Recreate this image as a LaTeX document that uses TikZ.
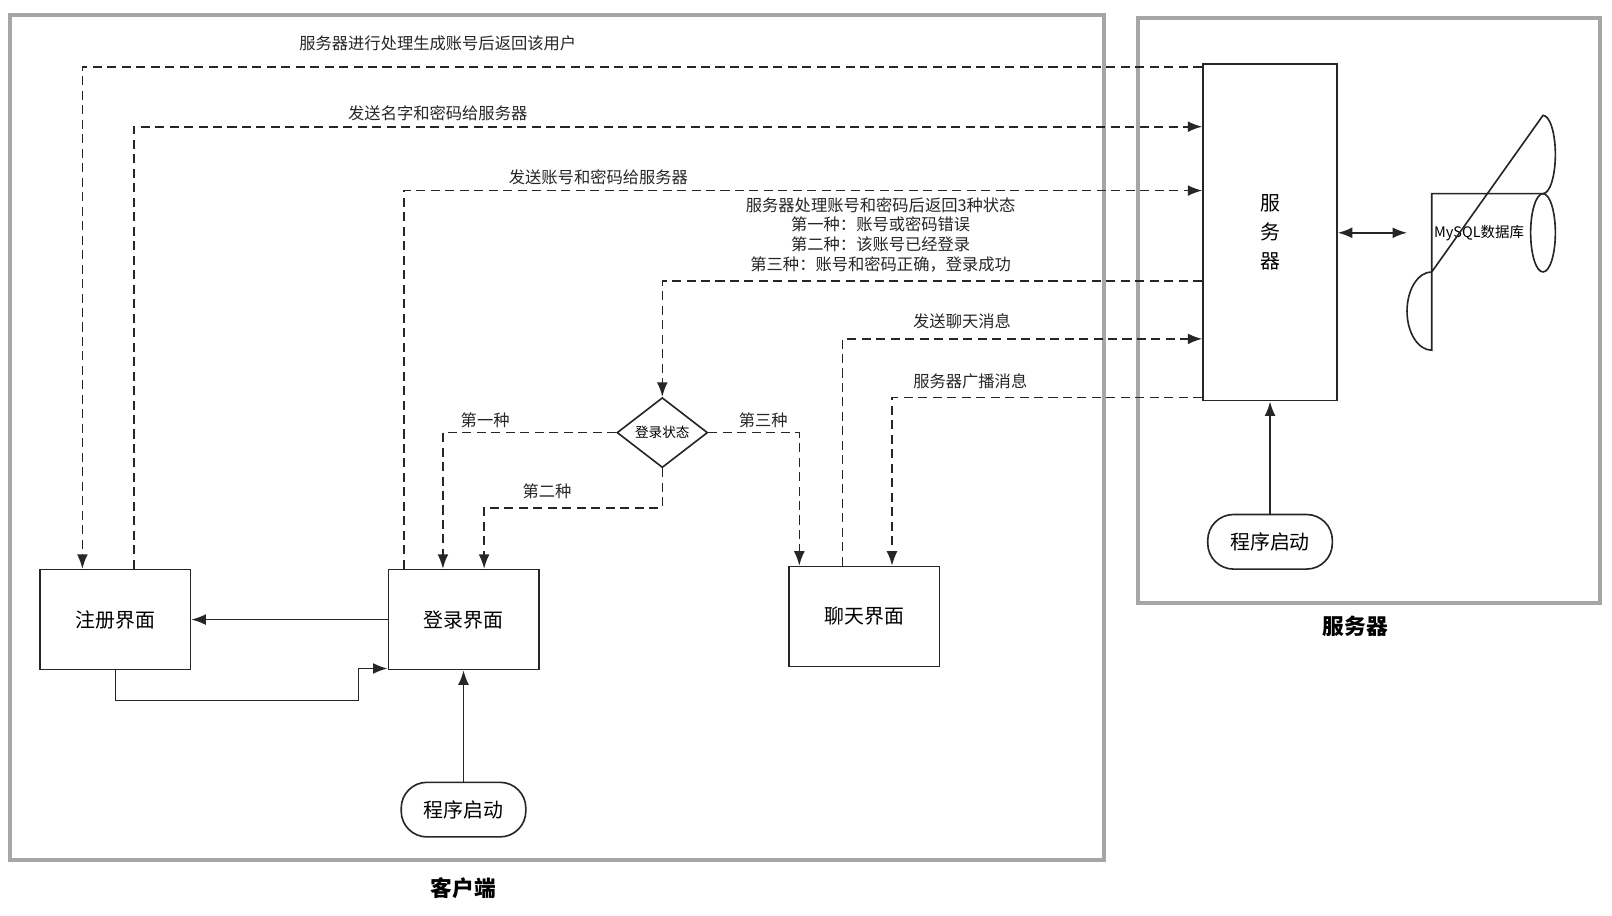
\documentclass[tikz,border=0pt]{standalone}
\usepackage{fontspec}
\setmainfont{Noto Sans CJK SC}
\usetikzlibrary{arrows.meta,shapes.geometric}
\begin{document}
\begin{tikzpicture}[x=0.02cm,y=-0.02cm,
  frame/.style={draw=black!35,line width=2.2pt},
  box/.style={draw=black!85,line width=0.9pt,minimum width=2.92cm,minimum height=1.94cm,font=\fontsize{11}{13}\selectfont},
  start/.style={draw=black!85,line width=0.9pt,rounded corners=0.5cm,minimum width=2.42cm,minimum height=1.06cm,font=\fontsize{11}{13}\selectfont},
  dline/.style={draw=black!85,line width=0.9pt,dash pattern=on 5pt off 3pt},
  sline/.style={draw=black!85,line width=0.9pt},
  arr/.style={-{Latex[length=8pt,width=6pt]}},
  lbl/.style={font=\fontsize{9}{11}\selectfont,text=black!85}]
\useasboundingbox (0,0) rectangle (1565,889);
\draw[frame] (10,15) rectangle (1072,835);
\draw[frame] (1105,17) rectangle (1553,585);
\node[font=\bfseries\fontsize{12}{14}\selectfont] (lc) at (450,862) {客户端};
\node[font=\bfseries\fontsize{12}{14}\selectfont] (ls) at (1316,608) {服务器};

\node[draw=black!85,line width=0.9pt,minimum width=2.6cm,minimum height=6.54cm,align=center,font=\fontsize{11}{16}\selectfont] (srv) at (1233,225.5) {服\\务\\器};
\node[minimum width=2.88cm,minimum height=1.52cm,inner sep=0pt,font=\fontsize{8}{10}\selectfont] (db) at (1436,226) {MySQL数据库};
\draw[line width=0.9pt,black!85] (1390,188) -- (1498,188) arc[start angle=90,end angle=-90,x radius=12,y radius=38] -- (1390,264) arc[start angle=270,end angle=90,x radius=24,y radius=38] -- cycle;
\draw[line width=0.9pt,black!85] (1498,226) ellipse[x radius=12,y radius=38];
\node[start] (ps) at (1233,526) {程序启动};

\node[box] (reg) at (112,601.5) {注册界面};
\node[box] (log) at (450,601.5) {登录界面};
\node[box] (chat) at (839,598.5) {聊天界面};
\node[diamond,draw=black!85,line width=0.9pt,minimum width=1.76cm,minimum height=1.36cm,inner sep=0pt,font=\fontsize{7.5}{9}\selectfont] (dia) at (643,420) {登录状态};
\node[start] (pc) at (450,786) {程序启动};

% dashed
\draw[dline,arr] (srv.north west |- 0,65) -- (80,65) -- (reg.north -| 80,0);
\node[lbl] at (425,42) {服务器进行处理生成账号后返回该用户};
\draw[dline,arr] (reg.north -| 130,0) -- (130,123) -- (srv.west |- 0,123);
\node[lbl] at (425,110) {发送名字和密码给服务器};
\draw[dline,arr] (log.north -| 392,0) -- (392,185) -- (srv.west |- 0,185);
\node[lbl] at (581,172) {发送账号和密码给服务器};
\draw[dline,arr] (srv.west |- 0,273) -- (643,273) -- (dia.north);
\node[lbl,align=center] at (855,228) {服务器处理账号和密码后返回3种状态\\第一种：账号或密码错误\\第二种：该账号已经登录\\第三种：账号和密码正确，登录成功};
\draw[dline,arr] (chat.north -| 818,0) -- (818,329) -- (srv.west |- 0,329);
\node[lbl] at (934,312) {发送聊天消息};
\draw[dline,arr] (srv.west |- 0,386) -- (866,386) -- (chat.north -| 866,0);
\node[lbl] at (942,370) {服务器广播消息};
\draw[dline,arr] (dia.west) -- (430,420) -- (log.north -| 430,0);
\node[lbl] at (471,408) {第一种};
\draw[dline,arr] (dia.south) -- (643,493) -- (470,493) -- (log.north -| 470,0);
\node[lbl] at (531,477) {第二种};
\draw[dline,arr] (dia.east) -- (776,420) -- (chat.north -| 776,0);
\node[lbl] at (741,408) {第三种};

% solid
\draw[sline,arr] (log.west) -- (reg.east);
\draw[sline,arr] (reg.south) -- (112,680) -- (348,680) -- (348,649) -- (log.south west |- 0,649);
\draw[sline,arr] (pc.north) -- (log.south);
\draw[sline,arr] (ps.north) -- (srv.south);
\draw[sline,{Latex[length=8pt,width=6pt]}-{Latex[length=8pt,width=6pt]}] (srv.east |- 0,226) -- (1366,226);
\end{tikzpicture}
\end{document}
